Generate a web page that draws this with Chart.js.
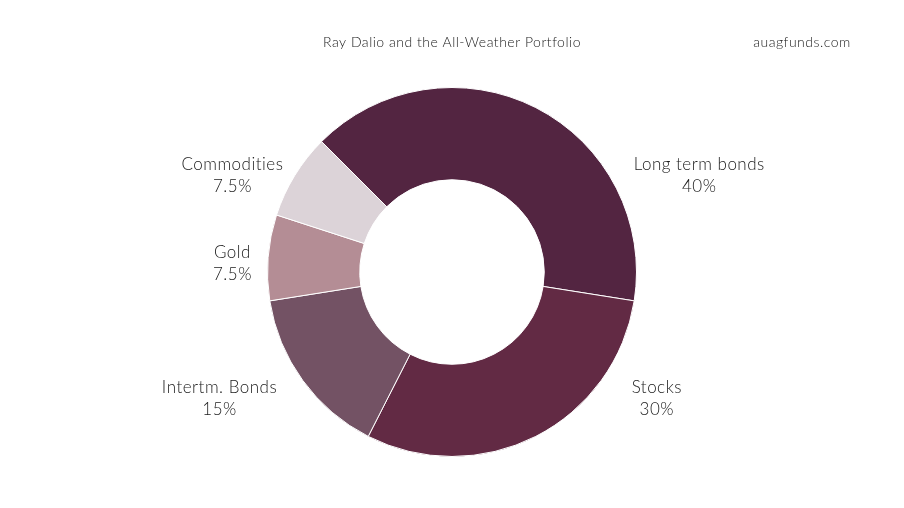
<!DOCTYPE html>
<html>
<head>
<meta charset="utf-8">
<script src="https://cdn.jsdelivr.net/npm/chart.js@4/dist/chart.umd.min.js"></script>
<style>
  html, body { margin: 0; padding: 0; background: #fff; }
  #wrap { width: 904px; height: 508px; }
</style>
</head>
<body>
<div id="wrap"><canvas id="allWeather"></canvas></div>
<script>
const categories = ['Long term bonds', 'Stocks', 'Intertm. Bonds', 'Gold', 'Commodities'];
const shares = [40, 30, 15, 7.5, 7.5];
const shareLabels = ['40%', '30%', '15%', '7.5%', '7.5%'];
const colours = ['#532541', '#622a44', '#735264', '#b48d95', '#dcd3d8'];

// where each label sits relative to the doughnut centre, in units of the outer radius
const labelAnchors = [[1.34, -0.525], [1.11, 0.685], [-1.26, 0.685], [-1.19, -0.045], [-1.19, -0.525]];

const textPlugin = {
    id: 'textPlugin',
    afterDraw(chart) {
        const ctx = chart.ctx;
        const arc = chart.getDatasetMeta(0).data[0];
        const cx = arc.x, cy = arc.y, r = arc.outerRadius;
        ctx.save();
        ctx.fillStyle = '#1a1a1a';
        ctx.textAlign = 'center';
        ctx.textBaseline = 'middle';
        ctx.letterSpacing = '0.5px';
        ctx.font = '300 14px Lato';
        ctx.fillText('Ray Dalio and the All-Weather Portfolio', 452, 42);
        ctx.fillText('auagfunds.com', 802, 42);
        ctx.font = '300 17px Lato';
        categories.forEach((c, i) => {
            const x = cx + labelAnchors[i][0] * r;
            const y = cy + labelAnchors[i][1] * r;
            ctx.fillText(c, x, y - 11);
            ctx.fillText(shareLabels[i], x, y + 11);
        });
        ctx.restore();
    }
};

new Chart(document.getElementById('allWeather'), {
    type: 'doughnut',
    data: {
        labels: categories,
        datasets: [{
            data: shares,
            backgroundColor: colours,
            borderColor: '#ffffff',
            borderWidth: 1
        }]
    },
    options: {
        responsive: true,
        maintainAspectRatio: false,
        animation: false,
        rotation: -45,
        cutout: '50%',
        layout: { padding: { top: 87, bottom: 51 } },
        plugins: { legend: { display: false }, tooltip: { enabled: false } }
    },
    plugins: [textPlugin]
});
</script>
</body>
</html>
